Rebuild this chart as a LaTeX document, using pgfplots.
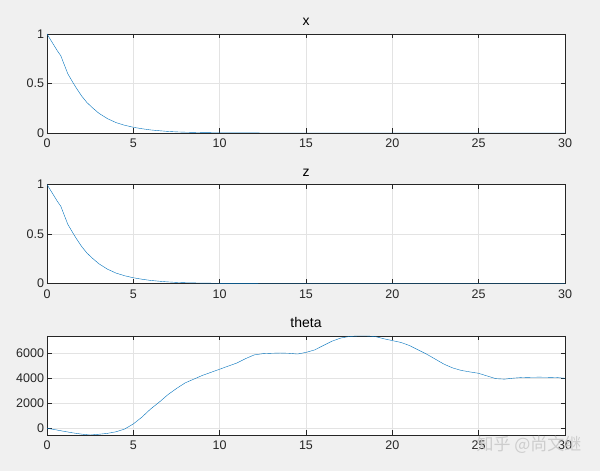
\documentclass[border=0pt]{standalone}
\usepackage{pgfplots}
\pgfplotsset{compat=1.18}
\usepackage{fontspec}
\setmainfont{Liberation Sans}
\newfontfamily\cjk{Noto Sans CJK SC}
\definecolor{bg}{HTML}{F0F0F0}
\definecolor{mblue}{HTML}{0072BD}
\definecolor{axc}{HTML}{262626}
\definecolor{gridc}{HTML}{E3E3E3}
\pgfplotsset{
  mstyle/.style={
    scale only axis, width=518pt, height=99pt,
    xmin=0, xmax=30, xtick={0,5,...,30},
    axis background/.style={fill=white},
    axis line style={axc, line width=0.6pt},
    tick style={axc, line width=0.5pt},
    tick align=inside, major tick length=4.5pt,
    xtick pos=both, ytick pos=both,
    xticklabel pos=lower, yticklabel pos=left,
    grid=major, major grid style={gridc, line width=0.5pt},
    tick label style={font=\fontsize{12.5}{14}\selectfont, text=axc},
    xticklabel style={yshift=-2.5pt},
    yticklabel style={xshift=0.5pt},
    /pgf/number format/assume math mode=true,
    /pgf/number format/1000 sep={},
    scaled y ticks=false,
    title style={font=\fontsize{14}{16}\selectfont, text=black, at={(0.5,1)}, anchor=south, yshift=-1.5pt},
    cycle list={{mblue, line width=0.7pt, no marks}},
  }
}
\pgfplotstableread{
t v
0 1
0.3 0.915
0.6 0.83
0.8 0.78
1.0 0.69
1.2 0.60
1.5 0.51
1.75 0.44
2 0.375
2.3 0.31
2.6 0.26
3 0.20
3.5 0.145
4 0.105
4.5 0.078
5 0.058
5.5 0.043
6 0.031
6.5 0.023
7 0.016
7.5 0.011
8 0.008
9 0.004
10 0.002
11 0.001
12 0.0005
15 0.0001
20 0
30 0
}\xdata
\pgfplotstableread{
t v
0 0
0.5 -120
1 -250
1.5 -370
2 -470
2.5 -540
3 -480
3.5 -410
4 -280
4.5 -60
5 350
5.5 900
6 1550
6.5 2100
7 2700
7.5 3200
8 3650
8.5 3950
9 4250
9.5 4500
10 4750
10.5 5000
11 5250
11.5 5600
12 5900
12.5 6000
13 6030
13.5 6050
14 6030
14.5 5970
15 6100
15.5 6300
16 6650
16.5 7000
17 7250
17.5 7380
18 7420
18.5 7420
19 7380
19.5 7200
20 7050
20.5 6900
21 6650
21.5 6300
22 5950
22.5 5550
23 5150
23.5 4850
24 4650
24.5 4530
25 4420
25.5 4200
26 3990
26.5 3950
27 4030
27.5 4080
28 4100
28.5 4110
29 4100
29.5 4080
30 4020
}\thdata
\begin{document}
\begin{tikzpicture}
\fill[bg] (0pt,0pt) rectangle (600pt,471pt);
\begin{axis}[mstyle, at={(47pt,338pt)}, anchor=south west, title={x},
  ymin=0, ymax=1, ytick={0,0.5,1}]
\addplot table[x=t,y=v] {\xdata};
\end{axis}
\begin{axis}[mstyle, at={(47pt,187.5pt)}, anchor=south west, title={z},
  ymin=0, ymax=1, ytick={0,0.5,1}]
\addplot table[x=t,y=v] {\xdata};
\end{axis}
\begin{axis}[mstyle, at={(47pt,36pt)}, anchor=south west, title={theta},
  ymin=-540, ymax=7420, ytick={0,2000,4000,6000}]
\addplot table[x=t,y=v] {\thdata};
\end{axis}
\node[text=black!22, opacity=0.85, font=\cjk\fontsize{17}{19}\selectfont, anchor=center] at (529pt,26pt) {知乎 @尚文继};
\pgfresetboundingbox
\path[use as bounding box] (0pt,0pt) rectangle (600pt,471pt);
\end{tikzpicture}
\end{document}
